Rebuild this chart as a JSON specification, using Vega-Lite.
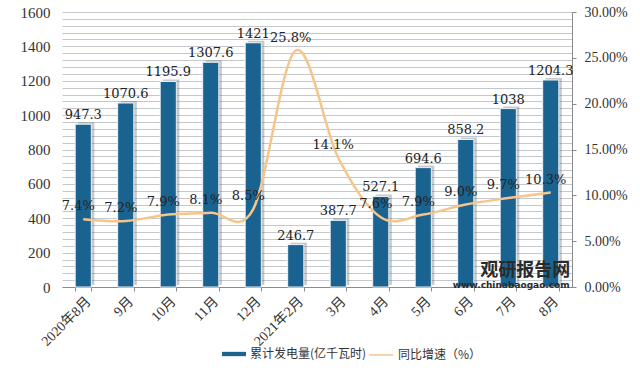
{
  "$schema": "https://vega.github.io/schema/vega-lite/v6.json",
  "autosize": {"type": "none"},
  "width": 510,
  "height": 275,
  "padding": {"left": 62, "top": 12, "right": 68, "bottom": 88},
  "background": "#ffffff",
  "config": {
    "view": {"stroke": null},
    "legend": {"labelFont": "Noto Sans CJK SC", "labelFontSize": 12, "labelColor": "#333333", "labelOffset": 4}
  },
  "data": {
    "values": [
      {"month": "2020年8月", "power": 947.3, "growth": 0.074},
      {"month": "9月", "power": 1070.6, "growth": 0.072},
      {"month": "10月", "power": 1195.9, "growth": 0.079},
      {"month": "11月", "power": 1307.6, "growth": 0.081},
      {"month": "12月", "power": 1421, "growth": 0.085},
      {"month": "2021年2月", "power": 246.7, "growth": 0.258},
      {"month": "3月", "power": 387.7, "growth": 0.141},
      {"month": "4月", "power": 527.1, "growth": 0.076},
      {"month": "5月", "power": 694.6, "growth": 0.079},
      {"month": "6月", "power": 858.2, "growth": 0.090},
      {"month": "7月", "power": 1038, "growth": 0.097},
      {"month": "8月", "power": 1204.3, "growth": 0.103}
    ]
  },
  "encoding": {
    "x": {
      "field": "month", "type": "ordinal", "sort": null, "title": null,
      "scale": {"paddingInner": 0.62, "paddingOuter": 0.31},
      "axis": {"labelAngle": -45, "labelFont": "Liberation Serif, Noto Sans CJK SC", "labelFontSize": 14, "labelColor": "#333333", "domainColor": "#8a8a8a", "tickColor": "#8a8a8a", "tickBand": "extent", "tickSize": 4, "labelPadding": 3}
    }
  },
  "layer": [
    {
      "encoding": {
        "y": {"field": "power", "type": "quantitative", "title": null,
          "scale": {"domain": [0, 1600]},
          "axis": {
            "values": [0,40,80,120,160,200,240,280,320,360,400,440,480,520,560,600,640,680,720,760,800,840,880,920,960,1000,1040,1080,1120,1160,1200,1240,1280,1320,1360,1400,1440,1480,1520,1560,1600],
            "labelExpr": "datum.value % 200 === 0 ? datum.value : ''",
            "labelOverlap": false,
            "grid": true, "gridColor": "#c4c8ce", "gridWidth": 1,
            "domain": false, "ticks": false, "labelPadding": 12,
            "labelFont": "Liberation Serif", "labelFontSize": 15, "labelColor": "#333333"
          }
        }
      },
      "layer": [
        {
          "mark": {"type": "bar", "color": "#5f646a", "opacity": 0.35, "xOffset": 3, "yOffset": -2}
        },
        {
          "mark": {"type": "bar", "stroke": "#eef3f7", "strokeWidth": 1},
          "encoding": {
            "fill": {"datum": "累计发电量(亿千瓦时)", "scale": {"range": ["#1a6390"]},
              "legend": {"title": null, "orient": "none", "legendX": 160, "legendY": 330, "symbolType": "M-1,-0.18H1V0.18H-1Z", "symbolSize": 576, "symbolStrokeWidth": 0}}
          }
        },
        {
          "mark": {"type": "text", "dy": -9, "font": "DejaVu Serif", "fontSize": 13, "color": "#222222"},
          "encoding": {
            "text": {"field": "power", "type": "nominal"}
          }
        }
      ]
    },
    {
      "encoding": {
        "y": {"field": "growth", "type": "quantitative", "title": null,
          "scale": {"domain": [0, 0.3]},
          "axis": {"orient": "right", "format": ".2%", "values": [0, 0.05, 0.1, 0.15, 0.2, 0.25, 0.3], "grid": false,
            "domainColor": "#8a8a8a", "tickColor": "#8a8a8a", "tickSize": 4, "labelPadding": 8,
            "labelFont": "Liberation Serif", "labelFontSize": 14, "labelColor": "#333333"}
        }
      },
      "layer": [
        {
          "mark": {"type": "line", "interpolate": "cardinal", "strokeWidth": 2.5},
          "encoding": {
            "stroke": {"datum": "同比增速（%）", "scale": {"range": ["#f5c58a"]},
              "legend": {"title": null, "orient": "none", "legendX": 306, "legendY": 330, "symbolType": "stroke", "symbolSize": 576, "symbolStrokeWidth": 1.5}}
          }
        },
        {
          "mark": {"type": "text", "dy": -13, "dx": -5, "font": "DejaVu Serif", "fontSize": 13, "color": "#222222"},
          "encoding": {
            "text": {"field": "growth", "type": "quantitative", "format": ".1%"}
          }
        }
      ]
    },
    {
      "data": {"values": [{"brand": "观研报告网", "site": "www.chinabaogao.com", "month": "7月", "ya": 96, "yb": 12}]},
      "layer": [
        {
          "mark": {"type": "text", "font": "Noto Sans CJK SC", "fontWeight": "bold", "fontSize": 18, "color": "#2a2a2a", "dx": 17},
          "encoding": {"y": {"field": "ya", "type": "quantitative", "scale": {"domain": [0, 1600]}, "axis": null}, "text": {"field": "brand"}}
        },
        {
          "mark": {"type": "text", "font": "DejaVu Sans", "fontWeight": "bold", "fontSize": 9, "color": "#2a2a2a", "dx": 3},
          "encoding": {"y": {"field": "yb", "type": "quantitative", "axis": null}, "text": {"field": "site"}}
        }
      ]
    }
  ],
  "resolve": {"scale": {"y": "independent"}}
}
